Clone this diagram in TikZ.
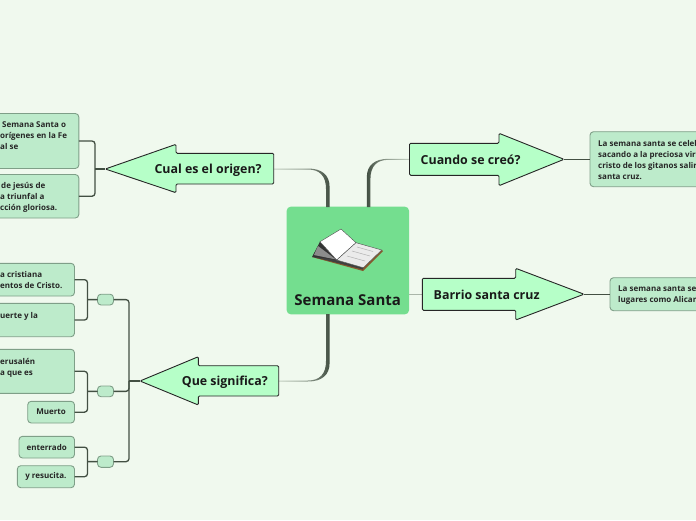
\documentclass[tikz,border=0pt]{standalone}
\usepackage{fontspec}
\setmainfont{Open Sans}
\usetikzlibrary{calc}
\definecolor{bgc}{HTML}{F0F9EE}
\definecolor{mainc}{HTML}{74DE8F}
\definecolor{arrowc}{HTML}{B6FFC8}
\definecolor{leafc}{HTML}{BDEBCB}
\definecolor{leafb}{HTML}{7F9F88}
\definecolor{linec}{HTML}{435043}
\definecolor{lightl}{HTML}{C4D0C2}
\tikzset{
 leafbox/.style={draw=leafb,line width=.9pt,fill=leafc,rounded corners=3.5pt,inner sep=0pt,outer sep=0pt},
 leaftext/.style={inner sep=0pt,align=left,text=black!85,font=\fontsize{8pt}{11pt}\selectfont\bfseries},
 arrowshp/.style={draw=black!85,line width=.9pt,fill=arrowc,rounded corners=1.2pt},
 arrowtext/.style={inner sep=0pt,anchor=west,text=black!90,font=\fontsize{12.4pt}{15pt}\selectfont\bfseries},
 conn/.style={draw=linec,line width=1.3pt,rounded corners=3pt},
 connb/.style={draw=linec,line width=1.9pt},
 grad/.style={left color=lightl,right color=linec,middle color=linec!35!lightl},
 gradr/.style={right color=lightl,left color=linec,middle color=linec!35!lightl},
}
\newcommand\leafnode[5]{\node[leafbox,minimum width={(#4)-(#2)},minimum height={(#5)-(#3)}] (#1) at ({((#2)+(#4))/2},{((#3)+(#5))/2}) {};}
\newcommand\taper[5]{\shade[#5] let \p1=(#1),\p2=(#2) in
 ({\x1},{\y1-(#4)*.5pt}) -- ({\x2-(#3)*20pt},{\y1-(#4)*.5pt})
 .. controls ({\x2+(#3)*(-6pt)},{\y1-(#4)*.5pt}) and ({\x2+(#3)*1.8pt},{\y1+(#4)*6pt}) .. ({\x2+(#3)*1.8pt},{\y1+(#4)*18pt})
 -- ({\x2+(#3)*1.8pt},{\y2}) -- ({\x2-(#3)*1.8pt},{\y2})
 -- ({\x2-(#3)*1.8pt},{\y1+(#4)*20pt})
 .. controls ({\x2-(#3)*1.8pt},{\y1+(#4)*7pt}) and ({\x2-(#3)*8pt},{\y1+(#4)*.5pt}) .. ({\x2-(#3)*20pt},{\y1+(#4)*.5pt})
 -- ({\x1},{\y1+(#4)*.5pt}) -- cycle;}
\begin{document}
\begin{tikzpicture}[x=1pt,y=-1pt]
\useasboundingbox (0,0) rectangle (696,520);
\clip (0,0) rectangle (696,520);
\fill[bgc] (0,0) rectangle (696,520);
% anchors
\coordinate (cualE) at (273.7,169);
\coordinate (cualT) at (105.3,169);
\coordinate (cuandoW) at (409.5,159.3);
\coordinate (cuandoT) at (564,159.3);
\coordinate (barrioW) at (422.3,294.2);
\coordinate (barrioT) at (584,294.2);
\coordinate (queE) at (278.7,381);
\coordinate (queT) at (140,381);
\coordinate (stemTL) at (327.8,207);
\coordinate (stemTR) at (368.6,207);
\coordinate (stemBL) at (327.8,314);
% central node
\node[fill=mainc,rounded corners=4pt,minimum width=122.3pt,minimum height=107.6pt,inner sep=0pt,outer sep=0pt] (center) at (347.85,260.5) {};
% tapered connectors
\taper{cualE}{stemTL}{1}{-1}{grad}
\taper{cuandoW}{stemTR}{-1}{-1}{gradr}
\taper{queE}{stemBL}{1}{1}{grad}
\draw[lightl!80!linec,line width=1pt] (center.east |- barrioW) -- (barrioW);
\node[inner sep=0pt,font=\fontsize{15pt}{17pt}\selectfont\bfseries,text=black!90] (ctitle) at (347.7,300) {Semana Santa};
% book
\fill[black!80] (320,241.7) -- (312,257) -- (337,263) -- (337,259) -- cycle;
\fill[black!45] (318,246) -- (314,255) -- (336,259.5) -- cycle;
\fill[brown!70!black] (312,257) -- (363,271) -- (383,251) -- (381.7,250) -- (363.3,267.7) -- cycle;
\fill[black!75] (312,256.5) -- (363,269.5) -- (363.3,267.7) -- (336.7,260) -- cycle;
\filldraw[fill=white,draw=black!70,line width=.4pt] (320,241.7) -- (341,229) -- (356,242.7) -- (336.7,260) -- cycle;
\filldraw[fill=black!8,draw=black!70,line width=.4pt] (356,242.7) -- (381.7,250) -- (363.3,267.7) -- (336.7,260) -- cycle;
\draw[black!30,line width=.5pt] (357,247) -- (373,251.5) (352,251) -- (370,256) (347,256) -- (365,261);
% branch arrows
\draw[arrowshp] (cualT) -- (176,144.3) -- (176,153.3) -- (273.7,153.3) -- (273.7,184) -- (176,184) -- (176,192.7) -- cycle;
\node[arrowtext] (cual) at (154.3,170.3) {Cual es el origen?};
\draw[arrowshp] (cuandoT) -- (499,133.3) -- (499,143.3) -- (409.5,143.3) -- (409.5,175.3) -- (499,175.3) -- (499,185.7) -- cycle;
\node[arrowtext] (cuando) at (420.5,160) {Cuando se creó?};
\draw[arrowshp] (barrioT) -- (515.7,268.3) -- (515.7,278.3) -- (422.3,278.3) -- (422.3,310.3) -- (515.7,310.3) -- (515.7,320) -- cycle;
\node[arrowtext] (barrio) at (433.5,295) {Barrio santa cruz};
\draw[arrowshp] (queT) -- (198.3,356.7) -- (198.3,365.7) -- (278.7,365.7) -- (278.7,396) -- (198.3,396) -- (198.3,405) -- cycle;
\node[arrowtext] (que) at (181.7,382.3) {Que significa?};
% leaves, left top
\leafnode{l1}{-40}{113.5}{78.8}{168.5}
\leafnode{l2}{-40}{174.5}{78.8}{218}
\node[leaftext,anchor=north west] (l1t) at (0,122) {\hspace*{2pt}Semana Santa o\\orígenes en la Fe\\al se};
\node[leaftext,anchor=north west] (l2t) at (0,182) {\hspace*{1pt}de jesús de\\a triunfal a\\cción gloriosa.};
\coordinate (jl) at (95,169);
\draw[conn] (l1.east) -| (jl) |- (l2.east);
\draw[connb] (cualT) -- (jl);
% leaves, right
\leafnode{r1}{590}{131.7}{740}{186.7}
\leafnode{r2}{610}{277.7}{740}{310.7}
\node[leaftext,anchor=north west] (r1t) at (598,140) {La semana santa se celeb\\sacando a la preciosa vir\\cristo de los gitanos salir\\santa cruz.};
\node[leaftext,anchor=north west] (r2t) at (618,286) {La semana santa se\\lugares como Alicar};
\draw[connb,line width=1.4pt] (cuandoT) -- (r1.west |- cuandoT);
\draw[connb,line width=1.4pt] (barrioT) -- (r2.west |- barrioT);
% leaves, left bottom
\leafnode{b1}{-40}{263.3}{74.5}{296}
\leafnode{b2}{-40}{303.3}{74.5}{336.7}
\leafnode{b3}{-40}{349.3}{74.5}{393.3}
\leafnode{b4}{27.7}{401.3}{74.5}{423}
\leafnode{b5}{19}{436.3}{74.5}{458}
\leafnode{b6}{17.3}{465.7}{74.5}{487.7}
\node[leaftext,anchor=north west] (b1t) at (0,271) {a cristiana\\entos de Cristo.};
\node[leaftext,anchor=north west] (b2t) at (0,312) {uerte y la};
\node[leaftext,anchor=north west] (b3t) at (0,358) {erusalén\\a que es};
\node[leaftext] (b4t) at (b4) {Muerto};
\node[leaftext] (b5t) at (b5) {enterrado};
\node[leaftext] (b6t) at ([yshift=.7pt]b6) {y resucita.};
% small group nodes
\leafnode{s1}{97.5}{294.2}{113.5}{305}
\leafnode{s2}{97.5}{386}{113.5}{396.7}
\leafnode{s3}{97.5}{456}{113.5}{467.3}
\coordinate (j1) at (87.5,299.6);
\coordinate (j2) at (87.5,391.4);
\coordinate (j3) at (87.5,461.6);
\draw[conn] (b1.east) -| (j1) |- (b2.east);
\draw[conn] (b3.east) -| (j2) |- (b4.east);
\draw[conn] (b5.east) -| (j3) |- (b6.east);
\draw[connb,line width=1.5pt] (s1.west) -- (j1);
\draw[connb,line width=1.5pt] (s2.west) -- (j2);
\draw[connb,line width=1.5pt] (s3.west) -- (j3);
\coordinate (jq) at (129,381);
\draw[conn] (s1.east) -| (jq) |- (s3.east);
\draw[conn] (s2.east) -| (jq);
\draw[connb] (queT) -- (jq);
\end{tikzpicture}
\end{document}
